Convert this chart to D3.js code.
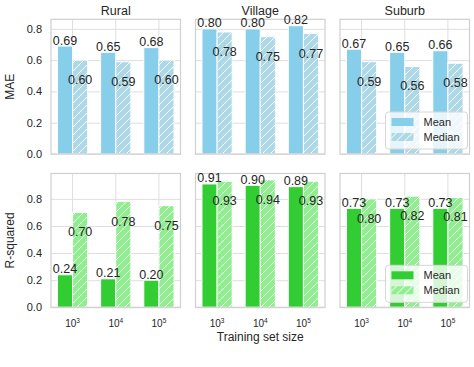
<!DOCTYPE html>
<html>
<head>
<meta charset="utf-8">
<script src="https://cdn.jsdelivr.net/npm/d3@7"></script>
<style>
  body { margin: 0; background: #fff; }
  text { font-family: "Liberation Sans", Arial, sans-serif; fill: #262626; }
</style>
</head>
<body>
<svg id="chart"></svg>
<script>
// data
let regions = ["Rural", "Village", "Suburb"];
let trainExp = [3, 4, 5];   // training set size 10^3 .. 10^5
let maeMean   = [[0.69, 0.65, 0.68], [0.80, 0.80, 0.82], [0.67, 0.65, 0.66]];
let maeMedian = [[0.60, 0.59, 0.60], [0.78, 0.75, 0.77], [0.59, 0.56, 0.58]];
let r2Mean    = [[0.24, 0.21, 0.20], [0.91, 0.90, 0.89], [0.73, 0.73, 0.73]];
let r2Median  = [[0.70, 0.78, 0.75], [0.93, 0.94, 0.93], [0.80, 0.82, 0.81]];
let yTicks = [0, 0.2, 0.4, 0.6, 0.8];

let width = 474, height = 367;
let panelLeft = 51, panelWidth = 129.5, panelGap = 15;
let rows = [
    {label: "MAE", mean: maeMean, median: maeMedian, top: 19.3, bottom: 154, c1: "#87CEEB", c2: "#ADD8E6", pat: "hatchBlue"},
    {label: "R-squared", mean: r2Mean, median: r2Median, top: 173.5, bottom: 307.3, c1: "#32CD32", c2: "#90EE90", pat: "hatchGreen"}
];
let gridColor = "#dedede";
let barW = 0.35;

let svg = d3.select("#chart").attr("width", width).attr("height", height);

// hatch patterns for the median bars
let defs = svg.append("defs");
rows.forEach(r => {
    let p = defs.append("pattern")
        .attr("id", r.pat)
        .attr("patternUnits", "userSpaceOnUse")
        .attr("width", 8).attr("height", 8);
    p.append("rect").attr("width", 8).attr("height", 8).attr("fill", r.c2);
    p.append("path")
        .attr("d", "M-2,2 L2,-2 M0,8 L8,0 M6,10 L10,6")
        .attr("stroke", "#fff").attr("stroke-width", 1);
});

rows.forEach((r, ri) => {
    let yMax = d3.max(r.mean.concat(r.median).flat()) * 1.05;
    let y = d3.scaleLinear().domain([0, yMax]).range([r.bottom, r.top]);

    regions.forEach((region, pi) => {
        let x0 = panelLeft + pi * (panelWidth + panelGap);
        let x = d3.scaleBand().domain(trainExp).range([x0, x0 + panelWidth]).padding(0);
        let bw = x.bandwidth();
        let cx = d => x(d) + bw / 2;

        let g = svg.append("g");

        // grid
        let yAxis = g.append("g")
            .attr("transform", "translate(" + x0 + ",0)")
            .call(d3.axisLeft(y).tickValues(yTicks).tickSize(-panelWidth)
                .tickFormat(pi === 0 ? d3.format(".1f") : ""));
        yAxis.select(".domain").remove();
        yAxis.selectAll("line").attr("stroke", gridColor);
        yAxis.selectAll("text").attr("x", -9).attr("font-size", 11).attr("fill", "#262626");

        let xAxis = g.append("g")
            .attr("transform", "translate(0," + r.bottom + ")")
            .call(d3.axisBottom(x).tickSize(-(r.bottom - r.top)).tickFormat(""));
        xAxis.select(".domain").remove();
        xAxis.selectAll("line").attr("stroke", gridColor);

        if (ri === 1) {
            trainExp.forEach(e => {
                let t = g.append("text")
                    .attr("x", cx(e))
                    .attr("y", r.bottom + 20)
                    .attr("text-anchor", "middle")
                    .attr("font-size", 10)
                    .text("10");
                t.append("tspan")
                    .attr("dy", -4)
                    .attr("font-size", 6.5)
                    .text(e);
            });
        }

        // bars
        let meanVals = trainExp.map((e, i) => ({e: e, v: r.mean[pi][i]}));
        let medVals = trainExp.map((e, i) => ({e: e, v: r.median[pi][i]}));

        g.selectAll(".bar")
            .data(meanVals)
            .enter().append("rect")
            .attr("class", "bar")
            .attr("x", d => cx(d.e) - barW * bw)
            .attr("width", barW * bw)
            .attr("y", d => y(d.v))
            .attr("height", d => r.bottom - y(d.v))
            .attr("fill", r.c1)
            .attr("stroke", "#fff")
            .attr("stroke-width", 1);

        g.selectAll(".bar2")
            .data(medVals)
            .enter().append("rect")
            .attr("class", "bar2")
            .attr("x", d => cx(d.e))
            .attr("width", barW * bw)
            .attr("y", d => y(d.v))
            .attr("height", d => r.bottom - y(d.v))
            .attr("fill", "url(#" + r.pat + ")")
            .attr("stroke", "#fff")
            .attr("stroke-width", 1);

        // spines
        g.append("rect")
            .attr("x", x0).attr("y", r.top)
            .attr("width", panelWidth).attr("height", r.bottom - r.top)
            .attr("fill", "none")
            .attr("stroke", "#cfcfcf")
            .attr("stroke-width", 1.2);

        // value labels
        g.selectAll(".lab1")
            .data(meanVals)
            .enter().append("text")
            .attr("x", d => cx(d.e) - barW * bw / 2)
            .attr("y", d => y(d.v) - 1.5)
            .attr("text-anchor", "middle")
            .attr("font-size", 12.5)
            .text(d => d3.format(".2f")(d.v));

        g.selectAll(".lab2")
            .data(medVals)
            .enter().append("text")
            .attr("x", d => cx(d.e) + barW * bw / 2)
            .attr("y", d => y(d.v) + 24)
            .attr("text-anchor", "middle")
            .attr("font-size", 12.5)
            .text(d => d3.format(".2f")(d.v));

        if (ri === 0) {
            svg.append("text")
                .attr("x", x0 + panelWidth / 2)
                .attr("y", 14.5)
                .attr("text-anchor", "middle")
                .attr("font-size", 12.5)
                .text(region);
        }

        // legend in the last panel
        if (pi === 2) {
            let lx = x0 + panelWidth - 84, ly = r.bottom - 42;
            let lg = svg.append("g").attr("transform", "translate(" + lx + "," + ly + ")");
            lg.append("rect")
                .attr("width", 82).attr("height", 37)
                .attr("rx", 3)
                .attr("fill", "#fff").attr("fill-opacity", 0.8)
                .attr("stroke", "#d6d6d6");
            [["Mean", r.c1], ["Median", "url(#" + r.pat + ")"]].forEach((it, k) => {
                lg.append("rect")
                    .attr("x", 6).attr("y", 6 + k * 15)
                    .attr("width", 22).attr("height", 8)
                    .attr("fill", it[1]);
                lg.append("text")
                    .attr("x", 38).attr("y", 14 + k * 15)
                    .attr("font-size", 11)
                    .text(it[0]);
            });
        }
    });

    svg.append("text")
        .attr("transform", "translate(14," + ((r.top + r.bottom) / 2) + ") rotate(-90)")
        .attr("text-anchor", "middle")
        .attr("font-size", 12)
        .text(r.label);
});

svg.append("text")
    .attr("x", panelLeft + 1.5 * panelWidth + panelGap)
    .attr("y", 341)
    .attr("text-anchor", "middle")
    .attr("font-size", 12)
    .text("Training set size");
</script>
</body>
</html>
